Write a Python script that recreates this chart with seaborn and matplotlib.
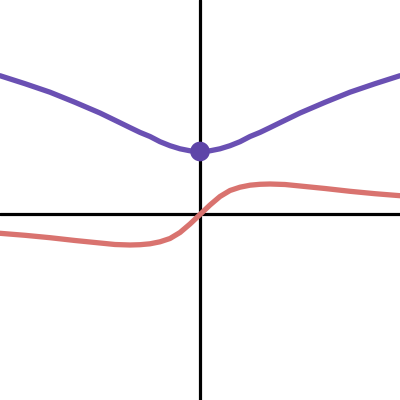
import numpy as np
import pandas as pd
import matplotlib
matplotlib.use("Agg")
import matplotlib.pyplot as plt
import seaborn as sns

# x positions (right half, mirrored for the left half)
x_half = [0, 0.5, 1.0, 1.5, 2.0, 2.5, 3.0, 3.5, 4.0, 5.0, 6.25, 7.5, 8.75, 10.0]
purple_half = [3.15, 3.185, 3.285, 3.44, 3.64, 3.90, 4.105, 4.345, 4.59,
               5.075, 5.61, 6.115, 6.54, 6.94]

x_red_half = [0, 0.5, 1.0, 1.5, 2.0, 2.5, 3.0, 3.5, 4.25, 5.0, 6.25, 7.5, 8.75, 10.0]
red_half = [0, 0.475, 0.90, 1.20, 1.365, 1.465, 1.51, 1.525, 1.50, 1.425,
            1.30, 1.16, 1.04, 0.94]

point_x = [0]
point_y = [3.15]

purple_x = [-v for v in x_half[::-1]] + x_half[1:]
purple_y = purple_half[::-1] + purple_half[1:]
red_x = [-v for v in x_red_half[::-1]] + x_red_half[1:]
red_y = [-v for v in red_half[::-1]] + red_half[1:]

df_p = pd.DataFrame({"x": purple_x, "y": purple_y})
df_r = pd.DataFrame({"x": red_x, "y": red_y})
df_pt = pd.DataFrame({"x": point_x, "y": point_y})

sns.set_style("white")
fig = plt.figure(figsize=(4, 4), dpi=100)
ax = fig.add_axes([0, 0, 1, 1])
ax.set_xlim(-10, 10)
ax.set_ylim(-9.275, 10.725)
ax.axhline(0, color="black", lw=2.3, zorder=1)
ax.axvline(0, color="black", lw=2.3, zorder=1)

sns.lineplot(data=df_r, x="x", y="y", ax=ax, sort=False, estimator=None,
             color="#d9736f", lw=3.8, zorder=2)
sns.lineplot(data=df_p, x="x", y="y", ax=ax, sort=False, estimator=None,
             color="#6a50b3", lw=3.8, zorder=3)
sns.scatterplot(data=df_pt, x="x", y="y", ax=ax, color="#5e45a8", s=200,
                edgecolor="none", zorder=4)

ax.set_xticks([])
ax.set_yticks([])
ax.set_xlabel("")
ax.set_ylabel("")
for s in ax.spines.values():
    s.set_visible(False)

fig.savefig("out.png", dpi=100)
